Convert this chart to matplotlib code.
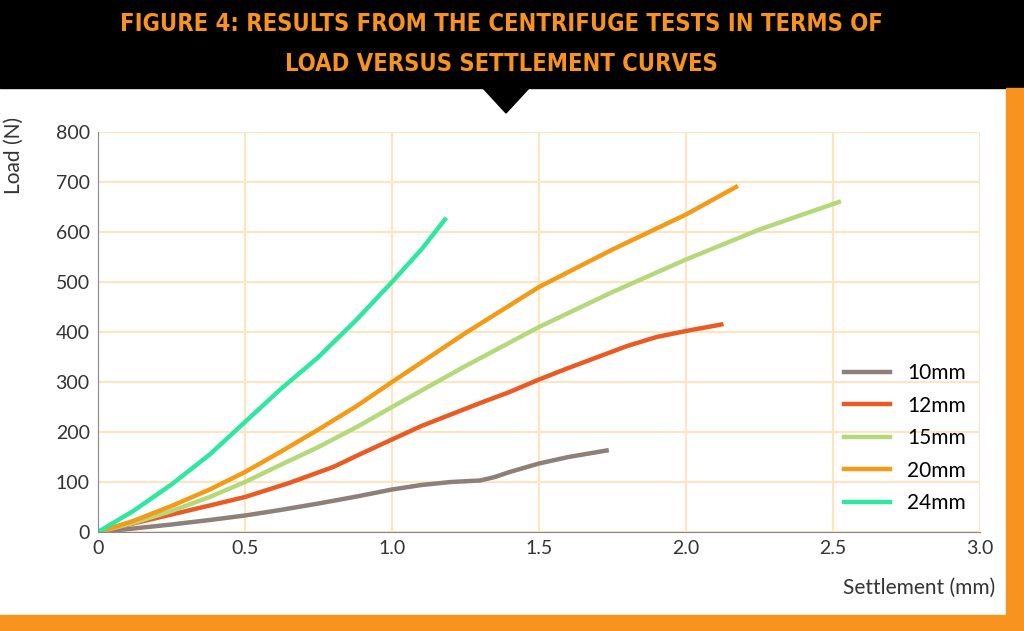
import matplotlib
matplotlib.use("Agg")
import matplotlib.pyplot as plt
from matplotlib.patches import Rectangle, Polygon

x10 = [0, 0.12, 0.25, 0.38, 0.5, 0.62, 0.75, 0.88, 1.0, 1.1, 1.2, 1.3, 1.35, 1.4, 1.5, 1.6, 1.73]
y10 = [0, 7, 15, 24, 33, 44, 57, 71, 85, 94, 100, 103, 110, 120, 137, 150, 163]
x12 = [0, 0.12, 0.25, 0.38, 0.5, 0.65, 0.8, 0.9, 1.0, 1.1, 1.2, 1.3, 1.4, 1.5, 1.6, 1.7, 1.8, 1.9, 2.0, 2.12]
y12 = [0, 17, 35, 53, 70, 98, 130, 158, 185, 212, 235, 258, 280, 305, 328, 350, 372, 390, 402, 415]
x15 = [0, 0.12, 0.25, 0.38, 0.5, 0.62, 0.75, 0.88, 1.0, 1.25, 1.5, 1.75, 2.0, 2.25, 2.52]
y15 = [0, 18, 42, 70, 100, 134, 170, 210, 250, 332, 410, 480, 545, 605, 660]
x20 = [0, 0.12, 0.25, 0.38, 0.5, 0.62, 0.75, 0.88, 1.0, 1.25, 1.5, 1.75, 2.0, 2.17]
y20 = [0, 22, 52, 85, 120, 160, 205, 252, 300, 398, 490, 565, 635, 690]
x24 = [0, 0.12, 0.25, 0.38, 0.5, 0.62, 0.75, 0.88, 1.0, 1.1, 1.18]
y24 = [0, 42, 95, 155, 220, 285, 350, 425, 500, 565, 625]
labels = ["10mm", "12mm", "15mm", "20mm", "24mm"]
colors = ["#8c8078", "#ec5a24", "#b5d87a", "#f59a16", "#2ee8a2"]

plt.rcParams['font.family'] = ['Lato', 'DejaVu Sans']
fig = plt.figure(figsize=(10.24, 6.31), dpi=100)
fig.patch.set_facecolor("white")
fig.add_artist(Rectangle((0, 1 - 88/631), 1, 88/631, transform=fig.transFigure, color="black"))
fig.add_artist(Polygon([(482/1024, 1 - 87/631), (530/1024, 1 - 87/631), (506/1024, 1 - 113/631)],
                       transform=fig.transFigure, color="black"))
fig.add_artist(Rectangle((1006/1024, 0), 18/1024, 1 - 88/631, transform=fig.transFigure, color="#f7931e"))
fig.add_artist(Rectangle((0, 0), 1, 16/631, transform=fig.transFigure, color="#f7931e"))
tkw = dict(ha="center", va="center", color="#f7931e", fontsize=17, fontweight="bold",
           family=["DejaVu Sans Condensed", "DejaVu Sans"], fontstretch="condensed")
fig.text(0.49, 1 - 24/631, "FIGURE 4: RESULTS FROM THE CENTRIFUGE TESTS IN TERMS OF", **tkw)
fig.text(0.49, 1 - 64/631, "LOAD VERSUS SETTLEMENT CURVES", **tkw)

ax = fig.add_axes([98/1024, 99/631, 882/1024, 400/631])
for xs, ys, lab, c in zip([x10, x12, x15, x20, x24], [y10, y12, y15, y20, y24], labels, colors):
    ax.plot(xs, ys, color=c, lw=3.2, label=lab, solid_joinstyle="round")
ax.set_xlim(0, 3.0)
ax.set_ylim(0, 800)
ax.set_xticks([0, 0.5, 1.0, 1.5, 2.0, 2.5, 3.0])
ax.set_xticklabels(["0", "0.5", "1.0", "1.5", "2.0", "2.5", "3.0"])
ax.set_yticks(range(0, 801, 100))
ax.grid(True, color="#fde6bf", lw=1.5)
ax.set_axisbelow(True)
for s in ["top", "right"]:
    ax.spines[s].set_visible(False)
for s in ["left", "bottom"]:
    ax.spines[s].set_color("#888888")
ax.tick_params(length=0, labelsize=14, colors="#333333", pad=6)
fig.text(995/1024, 1 - 588/631, "Settlement (mm)", ha="right", va="center", fontsize=15, color="#333333")
fig.text(14/1024, 1 - 155/631, "Load (N)", ha="center", va="center", rotation=90, fontsize=15, color="#333333")
ax.legend(loc="lower right", bbox_to_anchor=(1.005, 0.0), frameon=False, fontsize=15,
          handlelength=2.2, labelspacing=0.6)
fig.savefig("out.png", dpi=100)
